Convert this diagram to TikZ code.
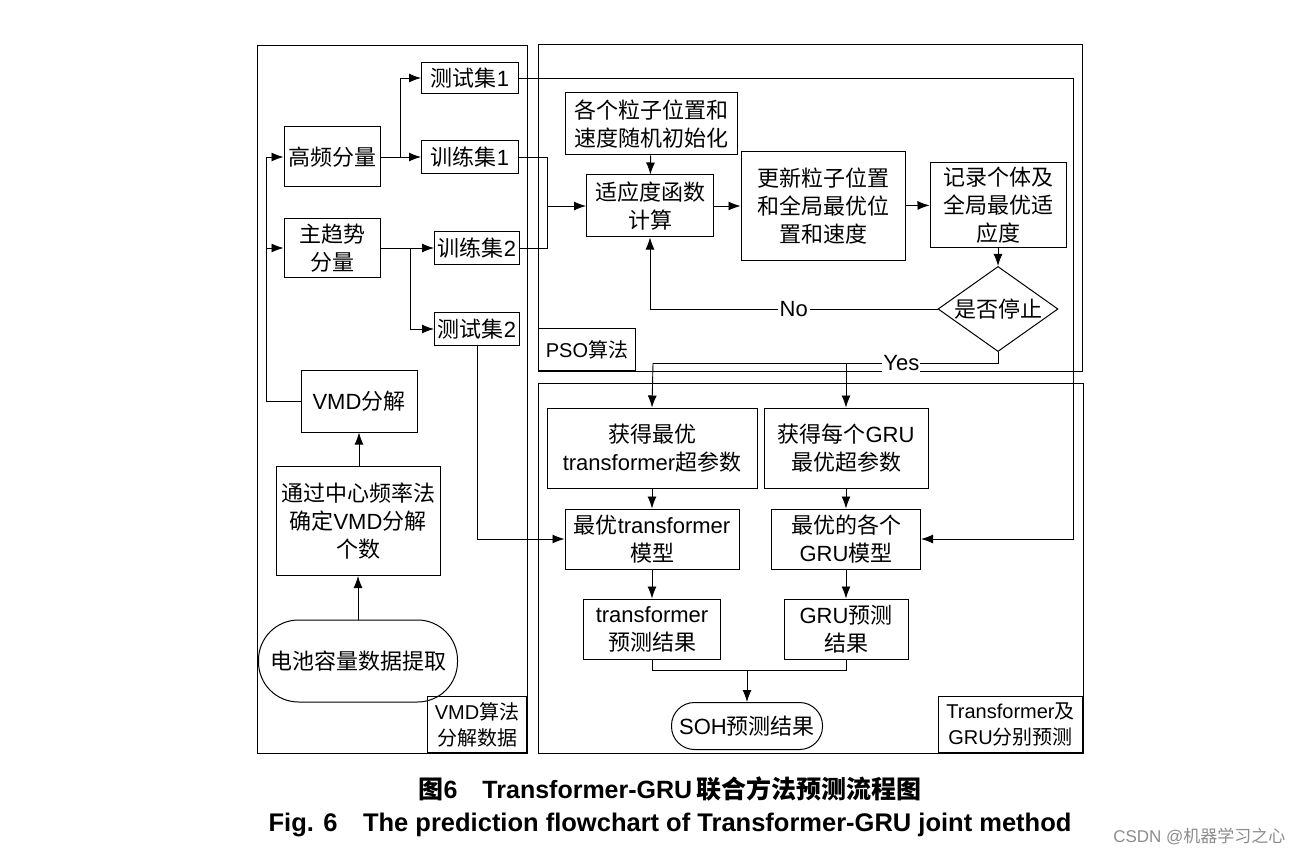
\documentclass[tikz,border=0pt]{standalone}
\usepackage{fontspec}
\setmainfont{Liberation Sans}
\newfontfamily\cjk{Noto Sans CJK SC}
\newcommand{\zh}[1]{{\cjk #1}}
\usetikzlibrary{arrows.meta,shapes.geometric}
\begin{document}
\begin{tikzpicture}[x=1pt,y=-1pt,
  every node/.style={font=\fontsize{22}{28}\selectfont},
  box/.style={draw,line width=1pt,minimum width=#1,inner sep=0pt,align=center},
  frame/.style={draw,line width=0.9pt},
  lab/.style={draw,line width=0.9pt,inner sep=2pt,align=center,fill=white},
  ar/.style={-{Latex[length=12pt,width=9pt]},line width=0.9pt},
  ln/.style={line width=0.9pt}]
\useasboundingbox (0,0) rectangle (1293,861);
% frames
\draw[frame] (257,45) rectangle (527,753);
\draw[frame] (538,44) rectangle (1082,371);
\draw[frame] (538,383) rectangle (1083,753);
\node[lab,anchor=south east,minimum width=99pt,minimum height=56pt,font=\fontsize{20}{26}\selectfont] (l1) at (527,753) {VMD\zh{算法}\\\zh{分解数据}};
\node[lab,anchor=south west,minimum width=97pt,minimum height=42pt,font=\fontsize{20}{26}\selectfont] (l2) at (538,371) {PSO\zh{算法}};
\node[lab,anchor=south east,minimum width=144pt,minimum height=56pt,font=\fontsize{20}{26}\selectfont] (l3) at (1083,753) {Transformer\zh{及}\\GRU\zh{分别预测}};
% left nodes
\node[box=97pt,minimum height=31pt] (t1) at (470,78) {\zh{测试集}1};
\node[box=96pt,minimum height=60pt] (hf) at (332,157) {\zh{高频分量}};
\node[box=97pt,minimum height=33pt] (x1) at (470,157) {\zh{训练集}1};
\node[box=96pt,minimum height=58pt] (zq) at (332,248) {\zh{主趋势}\\\zh{分量}};
\node[box=85pt,minimum height=33pt] (x2) at (477,248) {\zh{训练集}2};
\node[box=85pt,minimum height=33pt] (t2) at (477,329) {\zh{测试集}2};
\node[box=116pt,minimum height=62pt] (vmd) at (359,401) {VMD\zh{分解}};
\node[box=164pt,minimum height=109pt] (zx) at (358,521) {\zh{通过中心频率法}\\\zh{确定}VMD\zh{分解}\\\zh{个数}};
\node[box=199pt,minimum height=82pt,rounded corners=40pt] (dc) at (358,661) {\zh{电池容量数据提取}};
% PSO nodes
\node[box=172pt,minimum height=62pt] (init) at (651,124) {\zh{各个粒子位置和}\\\zh{速度随机初始化}};
\node[box=127pt,minimum height=62pt] (fit) at (650,206) {\zh{适应度函数}\\\zh{计算}};
\node[box=164pt,minimum height=108pt] (upd) at (823,206) {\zh{更新粒子位置}\\\zh{和全局最优位}\\\zh{置和速度}};
\node[box=136pt,minimum height=84pt] (rec) at (998,205) {\zh{记录个体及}\\\zh{全局最优适}\\\zh{应度}};
\node[draw,line width=1pt,diamond,aspect=1.36,minimum width=120pt,inner sep=0pt] (stop) at (998,309) {\zh{是否停止}};
% transformer section
\node[box=210pt,minimum height=80pt] (gt) at (652,448) {\zh{获得最优}\\transformer\zh{超参数}};
\node[box=164pt,minimum height=80pt] (gg) at (846,448) {\zh{获得每个}GRU\\\zh{最优超参数}};
\node[box=174pt,minimum height=60pt] (mt) at (652,539) {\zh{最优}transformer\\\zh{模型}};
\node[box=149pt,minimum height=60pt] (mg) at (846,539) {\zh{最优的各个}\\GRU\zh{模型}};
\node[box=137pt,minimum height=60pt] (pt) at (652,629) {transformer\\\zh{预测结果}};
\node[box=124pt,minimum height=60pt] (pg) at (846,629) {GRU\zh{预测}\\\zh{结果}};
\node[box=151pt,minimum height=47pt,rounded corners=23pt] (soh) at (747,726) {SOH\zh{预测结果}};
% left connectors
\draw[ln] (vmd.west) -- (266,401) -- (266,157);
\draw[ar] (266,157) -- (hf.west);
\draw[ar] (266,248) -- (zq.west);
\draw[ar] (vmd.north |- zx.north) -- (vmd.south);
\draw[ar] (dc.north) -- (zx.south);
\draw[ar] (hf.east) -- (x1.west);
\draw[ar] (400,157) |- (t1.west);
\draw[ar] (zq.east) -- (x2.west);
\draw[ar] (410,248) |- (t2.west);
\draw[ln] (x1.east) -- (547,157) -- (547,248) -- (x2.east);
\draw[ar] (547,206) -- (fit.west);
\draw[ar] (t1.east) -- (1073,78) |- (mg.east);
\draw[ar] (t2.south) |- (mt.west);
% PSO connectors
\draw[ar] (init) -- (fit);
\draw[ar] (fit) -- (upd);
\draw[ar] (upd) -- (rec);
\draw[ar] (rec) -- (stop);
\draw[ar] (stop.west) -- node[fill=white,inner sep=2pt,pos=0.5]{No} (650,309) -- (fit.south);
\draw[ln] (stop.south) -- (998,363) -- node[fill=white,inner sep=1pt,pos=0.28]{Yes} (653,363);
\draw[ar] (653,363) -- (gt.north);
\draw[ar] (846,363) -- (gg.north);
% transformer connectors
\draw[ar] (gt) -- (mt);
\draw[ar] (gg) -- (mg);
\draw[ar] (mt) -- (pt);
\draw[ar] (mg) -- (pg);
\draw[ln] (pt.south) -- (652,670) -- (846,670) -- (pg.south);
\draw[ar] (747,670) -- (soh.north);
% captions
\node[font=\fontsize{25}{28}\selectfont\bfseries] (c1) at (670,789) {\zh{图}6\quad Transformer-GRU\,\zh{联合方法预测流程图}};
\node[font=\fontsize{25.5}{28}\selectfont\bfseries] (c2) at (670,825) {Fig. 6\quad The prediction flowchart of Transformer-GRU joint method};
\node[font=\fontsize{17}{20}\selectfont,text=black!45,anchor=east] (wm) at (1289,836) {CSDN @\zh{机器学习之心}};
\end{tikzpicture}
\end{document}
